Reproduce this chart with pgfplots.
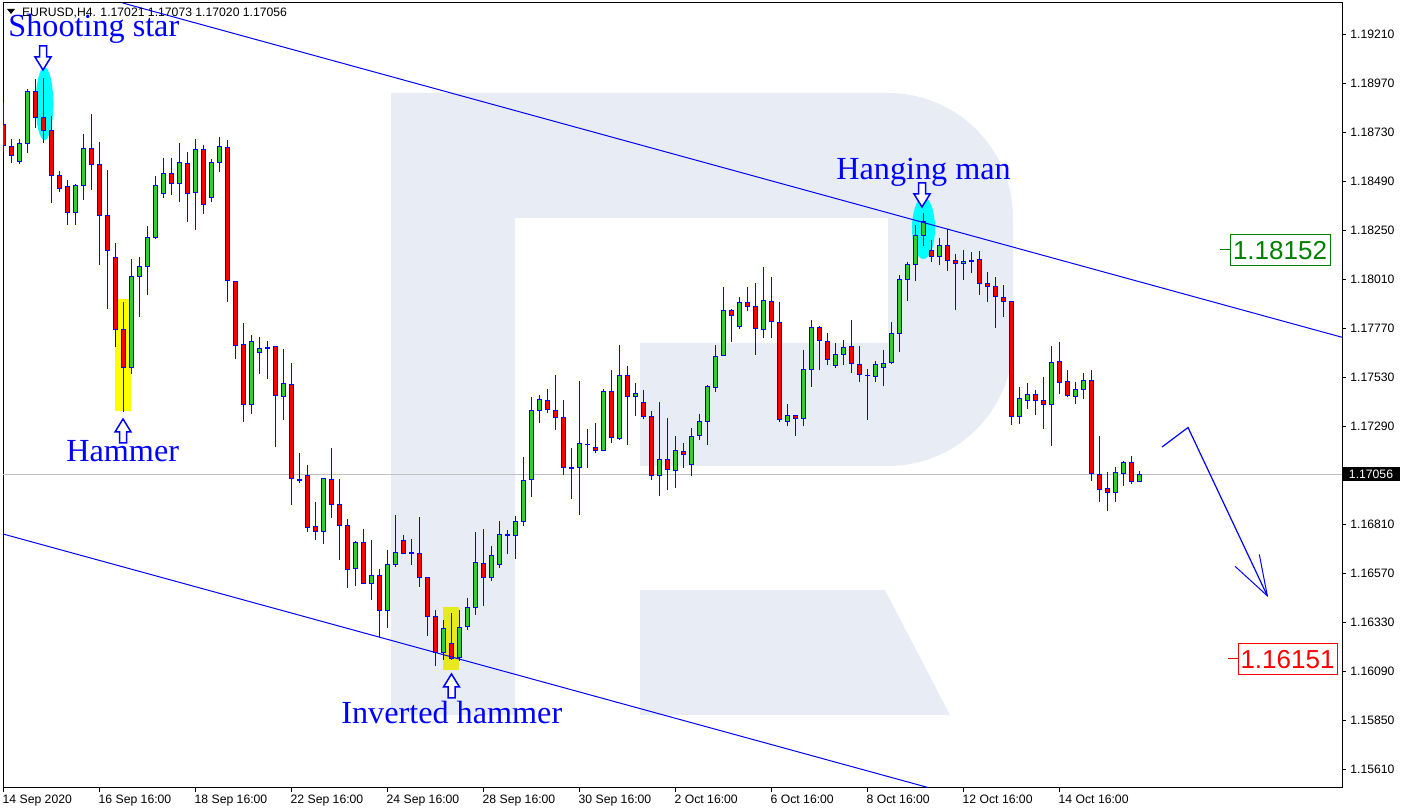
\documentclass[border=0pt]{standalone}
\usepackage{fontspec}
\setmainfont{Liberation Serif}
\newfontfamily\lsans{Liberation Sans}
\usepackage{pgfplots}
\usepackage{pgfplotstable}
\pgfplotsset{compat=1.18}
\definecolor{wm}{RGB}{232,237,245}
\definecolor{bull}{RGB}{50,205,50}
\definecolor{mtblue}{RGB}{0,0,255}
\definecolor{lgray}{RGB}{192,192,192}
\definecolor{ylw}{RGB}{255,255,0}
\definecolor{ylw2}{RGB}{232,232,30}
\definecolor{mtcyan}{RGB}{0,255,255}
\definecolor{lblgreen}{RGB}{0,128,0}

\pgfplotstableread{
i O H L C
0 1.18771 1.18874 1.18637 1.18665
1 1.18661 1.18699 1.18583 1.18619
2 1.18588 1.18699 1.18578 1.18678
3 1.18678 1.18944 1.18632 1.18933
4 1.18933 1.18993 1.18754 1.18808
5 1.18805 1.18999 1.18678 1.18742
6 1.18742 1.18812 1.18387 1.18521
7 1.18521 1.18541 1.18441 1.18457
8 1.18467 1.18498 1.18279 1.18340
9 1.18340 1.18482 1.18279 1.18472
10 1.18472 1.18723 1.18401 1.18653
11 1.18653 1.18821 1.18450 1.18575
12 1.18575 1.18684 1.18083 1.18325
13 1.18325 1.18547 1.17867 1.18154
14 1.18119 1.18189 1.17681 1.17766
15 1.17766 1.17902 1.17363 1.17580
16 1.17580 1.18114 1.17551 1.18026
17 1.18026 1.18119 1.17825 1.18075
18 1.18075 1.18271 1.17933 1.18217
19 1.18217 1.18516 1.18207 1.18472
20 1.18433 1.18609 1.18413 1.18531
21 1.18531 1.18609 1.18423 1.18482
22 1.18482 1.18683 1.18392 1.18585
23 1.18580 1.18634 1.18294 1.18433
24 1.18438 1.18697 1.18254 1.18648
25 1.18648 1.18668 1.18333 1.18379
26 1.18413 1.18599 1.18392 1.18585
27 1.18585 1.18712 1.18536 1.18663
28 1.18658 1.18693 1.17902 1.18007
29 1.18002 1.18002 1.17622 1.17688
30 1.17693 1.17797 1.17311 1.17399
31 1.17399 1.17742 1.17353 1.17708
32 1.17654 1.17727 1.17549 1.17673
33 1.17676 1.17709 1.17521 1.17676
34 1.17683 1.17683 1.17191 1.17443
35 1.17438 1.17670 1.17323 1.17502
36 1.17497 1.17601 1.16907 1.17036
37 1.17031 1.17160 1.17015 1.17031
38 1.17051 1.17100 1.16772 1.16796
39 1.16801 1.16920 1.16737 1.16777
40 1.16777 1.17041 1.16713 1.17036
41 1.17031 1.17185 1.16845 1.16909
42 1.16909 1.17036 1.16636 1.16806
43 1.16806 1.16840 1.16502 1.16590
44 1.16595 1.16733 1.16512 1.16723
45 1.16723 1.16791 1.16517 1.16522
46 1.16522 1.16733 1.16439 1.16561
47 1.16561 1.16590 1.16257 1.16390
48 1.16390 1.16684 1.16301 1.16615
49 1.16615 1.16860 1.16605 1.16674
50 1.16733 1.16762 1.16669 1.16669
51 1.16672 1.16737 1.16610 1.16672
52 1.16669 1.16845 1.16505 1.16551
53 1.16551 1.16551 1.16265 1.16360
54 1.16360 1.16390 1.16115 1.16184
55 1.16184 1.16345 1.16149 1.16301
56 1.16228 1.16375 1.16145 1.16154
57 1.16159 1.16394 1.16140 1.16306
58 1.16308 1.16448 1.16293 1.16404
59 1.16404 1.16772 1.16368 1.16625
60 1.16620 1.16791 1.16412 1.16551
61 1.16551 1.16703 1.16532 1.16659
62 1.16615 1.16831 1.16600 1.16762
63 1.16759 1.16782 1.16664 1.16759
64 1.16757 1.16855 1.16644 1.16826
65 1.16826 1.17139 1.16801 1.17027
66 1.17031 1.17433 1.16943 1.17370
67 1.17370 1.17448 1.17311 1.17423
68 1.17419 1.17477 1.17355 1.17374
69 1.17370 1.17541 1.17272 1.17335
70 1.17335 1.17419 1.17051 1.17090
71 1.17088 1.17183 1.16933 1.17088
72 1.17090 1.17513 1.16857 1.17208
73 1.17204 1.17278 1.17088 1.17204
74 1.17188 1.17311 1.17164 1.17174
75 1.17174 1.17477 1.17169 1.17463
76 1.17463 1.17570 1.17213 1.17237
77 1.17232 1.17690 1.17225 1.17541
78 1.17541 1.17587 1.17201 1.17438
79 1.17438 1.17502 1.17340 1.17453
80 1.17409 1.17468 1.17330 1.17340
81 1.17340 1.17365 1.17027 1.17051
82 1.17051 1.17409 1.16948 1.17129
83 1.17129 1.17330 1.16978 1.17080
84 1.17076 1.17242 1.16987 1.17174
85 1.17169 1.17208 1.17090 1.17154
86 1.17105 1.17281 1.17046 1.17242
87 1.17247 1.17350 1.17224 1.17316
88 1.17316 1.17492 1.17200 1.17487
89 1.17482 1.17688 1.17458 1.17634
90 1.17639 1.17972 1.17639 1.17860
91 1.17860 1.17869 1.17708 1.17835
92 1.17781 1.17923 1.17766 1.17899
93 1.17899 1.17977 1.17855 1.17879
94 1.17879 1.17997 1.17644 1.17771
95 1.17766 1.18070 1.17722 1.17909
96 1.17904 1.18021 1.17722 1.17806
97 1.17801 1.17899 1.17311 1.17325
98 1.17316 1.17399 1.17291 1.17345
99 1.17345 1.17345 1.17242 1.17330
100 1.17330 1.17664 1.17291 1.17570
101 1.17570 1.17812 1.17485 1.17776
102 1.17776 1.17781 1.17568 1.17713
103 1.17708 1.17747 1.17593 1.17619
104 1.17590 1.17698 1.17575 1.17644
105 1.17644 1.17713 1.17590 1.17678
106 1.17683 1.17811 1.17551 1.17600
107 1.17595 1.17685 1.17510 1.17546
108 1.17541 1.17570 1.17321 1.17541
109 1.17536 1.17610 1.17510 1.17595
110 1.17580 1.17664 1.17490 1.17600
111 1.17605 1.17801 1.17595 1.17747
112 1.17747 1.18036 1.17657 1.18011
113 1.18011 1.18095 1.17907 1.18085
114 1.18085 1.18276 1.18002 1.18227
115 1.18227 1.18336 1.18173 1.18296
116 1.18154 1.18207 1.18095 1.18124
117 1.18124 1.18212 1.18080 1.18178
118 1.18178 1.18261 1.18051 1.18105
119 1.18105 1.18134 1.17860 1.18090
120 1.18090 1.18158 1.18011 1.18100
121 1.18103 1.18144 1.18041 1.18103
122 1.18109 1.18149 1.17933 1.17992
123 1.17992 1.18046 1.17899 1.17977
124 1.17977 1.18026 1.17776 1.17928
125 1.17923 1.17982 1.17825 1.17904
126 1.17904 1.17904 1.17296 1.17340
127 1.17340 1.17487 1.17301 1.17428
128 1.17419 1.17502 1.17374 1.17448
129 1.17448 1.17468 1.17345 1.17419
130 1.17419 1.17531 1.17276 1.17399
131 1.17399 1.17683 1.17193 1.17605
132 1.17610 1.17703 1.17448 1.17507
133 1.17512 1.17566 1.17433 1.17443
134 1.17438 1.17507 1.17399 1.17472
135 1.17472 1.17551 1.17423 1.17517
136 1.17517 1.17570 1.17027 1.17061
137 1.17056 1.17247 1.16919 1.16982
138 1.16987 1.17066 1.16875 1.16968
139 1.16968 1.17090 1.16919 1.17066
140 1.17061 1.17120 1.16997 1.17115
141 1.17115 1.17149 1.17012 1.17022
142 1.17021 1.17073 1.17020 1.17056
}\candles

\newcommand{\dnarrowshape}[2]{\draw[mtblue, line width=0.75pt, fill=white, line join=miter]
 ({#1-3.5},{#2}) -- ({#1+3.5},{#2}) -- ({#1+3.5},{#2+11}) -- ({#1+8},{#2+11}) -- ({#1},{#2+24}) -- ({#1-8},{#2+11}) -- ({#1-3.5},{#2+11}) -- cycle;}
\newcommand{\uparrowshape}[2]{\draw[mtblue, line width=0.75pt, fill=white, line join=miter]
 ({#1},{#2}) -- ({#1+8},{#2+13}) -- ({#1+3.5},{#2+13}) -- ({#1+3.5},{#2+24}) -- ({#1-3.5},{#2+24}) -- ({#1-3.5},{#2+13}) -- ({#1-8},{#2+13}) -- cycle;}

\begin{document}
\begin{tikzpicture}
\useasboundingbox (0,0) rectangle (703pt,406pt);
% background objects, pixel coordinates (y downwards)
\begin{scope}[x=0.5pt,y=-0.5pt,yshift=406pt]
 \fill[wm] (391,93) -- (888,93) arc[start angle=-90,end angle=0,radius=125] -- (1013,341)
   arc[start angle=0,end angle=90,radius=125] -- (640,466) -- (640,343) -- (888,343) -- (888,218)
   -- (515,218) -- (515,715) -- (391,715) -- cycle;
 \fill[wm] (640,590) -- (885,590) -- (950,715) -- (640,715) -- cycle;
 \fill[ylw] (114.5,299) rectangle (131,411);
 \fill[ylw2] (442.7,607) rectangle (459,670);
 \fill[mtcyan] (44.5,103.7) ellipse[x radius=8.8, y radius=36.5];
 \fill[mtcyan] (923.5,228) ellipse[x radius=11.5, y radius=31];
\end{scope}

\begin{axis}[
  at={(1.5pt,12pt)}, anchor=south west, scale only axis,
  width=669.5pt, height=392.5pt,
  xmin=-0.0375, xmax=167.34, ymin=1.155188, ymax=1.193653,
  axis line style={black, line width=0.5pt},
  xtick={0,12,...,132},
  xticklabels={14 Sep 2020,16 Sep 16:00,18 Sep 16:00,22 Sep 16:00,24 Sep 16:00,28 Sep 16:00,30 Sep 16:00,2 Oct 16:00,6 Oct 16:00,8 Oct 16:00,12 Oct 16:00,14 Oct 16:00},
  ytick={1.15610,1.15850,1.16090,1.16330,1.16570,1.16810,1.17050,1.17290,1.17530,1.17770,1.18010,1.18250,1.18490,1.18730,1.18970,1.19210},
  yticklabels={1.15610,1.15850,1.16090,1.16330,1.16570,1.16810,{},1.17290,1.17530,1.17770,1.18010,1.18250,1.18490,1.18730,1.18970,1.19210},
  xtick pos=left, ytick pos=right, yticklabel pos=right,
  tick align=outside, major tick length=2pt,
  tick style={black, line width=0.5pt},
  ticklabel style={font=\lsans\fontsize{6.1}{7}\selectfont, text=black},
  xticklabel style={anchor=north west, inner sep=0pt, xshift=-0.5pt, yshift=-1.4pt},
  yticklabel style={anchor=west, inner sep=0pt, xshift=2pt},
]
\addplot[forget plot, draw=lgray, line width=0.5pt] coordinates {(-1,1.17056) (170,1.17056)};
% wicks
\addplot[forget plot, draw=none, mark=none,
  error bars/.cd, y dir=both, y explicit, error mark=none,
  error bar style={draw=mtblue, line width=0.5pt}]
  table[x=i, y expr={(\thisrow{H}+\thisrow{L})/2}, y error expr={(\thisrow{H}-\thisrow{L})/2}] {\candles};
% body outline
\addplot[forget plot, draw=none, mark=none,
  error bars/.cd, y dir=both, y explicit, error mark=none,
  error bar style={draw=mtblue, line width=2.5pt}]
  table[x=i, y expr={(\thisrow{O}+\thisrow{C})/2}, y error expr={abs(\thisrow{C}-\thisrow{O})/2+0.0000245}] {\candles};
% bearish fill
\addplot[forget plot, draw=none, mark=none,
  error bars/.cd, y dir=both, y explicit, error mark=none,
  error bar style={draw=red, line width=1.5pt}]
  table[x=i, y expr={(\thisrow{O}+\thisrow{C})/2}, y error expr={(\thisrow{C}<\thisrow{O})*max(abs(\thisrow{C}-\thisrow{O})/2-0.0000245,0)}] {\candles};
% bullish fill
\addplot[forget plot, draw=none, mark=none,
  error bars/.cd, y dir=both, y explicit, error mark=none,
  error bar style={draw=bull, line width=1.5pt}]
  table[x=i, y expr={(\thisrow{O}+\thisrow{C})/2}, y error expr={(\thisrow{C}>\thisrow{O})*max(abs(\thisrow{C}-\thisrow{O})/2-0.0000245,0)}] {\candles};
\end{axis}

% foreground objects, pixel coordinates
\begin{scope}[x=0.5pt,y=-0.5pt,yshift=406pt]
 \draw[mtblue, line width=0.5pt] (122.7,3) -- (1342,337.3);
 \draw[mtblue, line width=0.5pt] (3,534) -- (928,787.5);
 \draw[mtblue, line width=0.6pt] (1162,447) -- (1188,427.5) -- (1267.3,595.8);
 \draw[mtblue, line width=0.5pt] (1235,566.3) -- (1267.3,595.8) -- (1259.3,554.4);
 \dnarrowshape{43}{46}
 \dnarrowshape{922}{183}
 \uparrowshape{123}{419}
 \uparrowshape{451.5}{674}
 \node[anchor=base west, inner sep=0pt, text=mtblue, font=\fontsize{16.1}{18}\selectfont] at (8,37) {Shooting star};
 \node[anchor=base west, inner sep=0pt, text=mtblue, font=\fontsize{16.1}{18}\selectfont] at (836,180) {Hanging man};
 \node[anchor=base west, inner sep=0pt, text=mtblue, font=\fontsize{16.1}{18}\selectfont] at (66,462) {Hammer};
 \node[anchor=base west, inner sep=0pt, text=mtblue, font=\fontsize{16.1}{18}\selectfont] at (341,724) {Inverted hammer};
 % header
 \fill[black] (7,9) -- (15,9) -- (11,14) -- cycle;
 \node[anchor=base west, inner sep=0pt, font=\lsans\fontsize{6.1}{7}\selectfont] at (21.7,16.7) {EURUSD,H4. 1.17021 1.17073 1.17020 1.17056};
 % price labels
 \draw[lblgreen, line width=0.5pt] (1220,250) -- (1230,250);
 \draw[lblgreen, line width=0.5pt, fill=white] (1230,235) rectangle (1330,266);
 \node[text=lblgreen, inner sep=0pt, font=\lsans\fontsize{13}{14}\selectfont] at (1280,250.5) {1.18152};
 \draw[red, line width=0.5pt] (1228,659) -- (1238,659);
 \draw[red, line width=0.5pt, fill=white] (1238,644) rectangle (1337,675);
 \node[text=red, inner sep=0pt, font=\lsans\fontsize{13}{14}\selectfont] at (1287.5,659.5) {1.16151};
 \fill[black] (1342,467) rectangle (1400,481);
 \node[text=white, inner sep=0pt, font=\lsans\fontsize{6.1}{7}\selectfont] at (1371,474) {1.17056};
\end{scope}
\end{tikzpicture}
\end{document}
